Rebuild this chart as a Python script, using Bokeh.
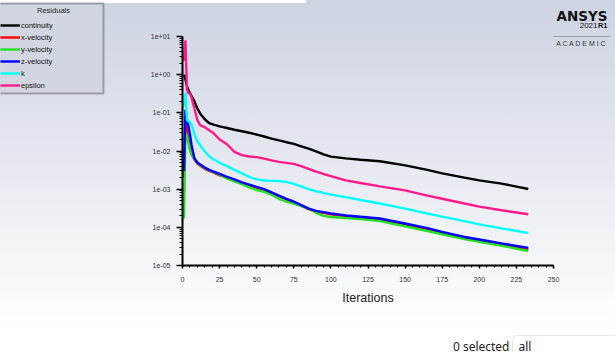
from bokeh.plotting import figure
from bokeh.models import (FixedTicker, CustomJSTickFormatter, Legend, LegendItem,
                          Label, BoxAnnotation, LinearAxis, LogAxis)
from bokeh.embed import file_html
from bokeh.resources import INLINE

# ---------------- data ----------------
iterations = [1, 2, 3, 4, 5, 6, 8, 10, 12, 15, 18, 21, 25, 30, 35, 40, 45, 50, 55, 60,
              65, 70, 75, 80, 85, 90, 95, 100, 110, 120, 133, 150, 165, 175, 190, 200, 215, 233]

continuity = [1.0, 0.75, 0.5, 0.39, 0.33, 0.28, 0.2, 0.13, 0.095, 0.068, 0.054, 0.049, 0.044,
              0.040, 0.036, 0.033, 0.030, 0.027, 0.024, 0.021, 0.019, 0.017, 0.0154, 0.0133,
              0.0115, 0.0098, 0.0082, 0.0071, 0.0064, 0.0059, 0.0054, 0.0042, 0.0032, 0.0026,
              0.0020, 0.0017, 0.0014, 0.00101]
x_velocity = [0.002, 0.065, 0.035, 0.02, 0.012, 0.0085, 0.006, 0.0047, 0.0041, 0.0034, 0.003,
              0.0027, 0.0023, 0.002, 0.0017, 0.00145, 0.00128, 0.0011, 0.00096, 0.0008, 0.00066,
              0.00055, 0.00046, 0.00037, 0.0003, 0.00026, 0.00024, 0.00022, 0.000195, 0.00018,
              0.00016, 0.00012, 0.00009, 0.000072, 0.000053, 0.000045, 0.000035, 0.000026]
y_velocity = [0.00017, 0.03, 0.025, 0.016, 0.0105, 0.0085, 0.0062, 0.005, 0.0043, 0.0036,
              0.0031, 0.0028, 0.0024, 0.0019, 0.0016, 0.00135, 0.00112, 0.00095, 0.00085,
              0.00072, 0.00056, 0.00047, 0.00042, 0.00036, 0.00031, 0.00024, 0.0002, 0.000187,
              0.000175, 0.000165, 0.000146, 0.000107, 0.00008, 0.000066, 0.000049, 0.000042,
              0.000033, 0.000024]
z_velocity = [0.003, 0.12, 0.07, 0.045, 0.028, 0.015, 0.0065, 0.005, 0.0044, 0.0037, 0.0032,
              0.0029, 0.0025, 0.0021, 0.0018, 0.0015, 0.00132, 0.00115, 0.001, 0.00082, 0.00068,
              0.00056, 0.00047, 0.00038, 0.00031, 0.00027, 0.00025, 0.00023, 0.000205, 0.00019,
              0.00017, 0.000126, 0.000095, 0.000076, 0.000056, 0.000048, 0.000038, 0.000029]
k = [0.15, 0.34, 0.065, 0.06, 0.058, 0.05, 0.028, 0.018, 0.014, 0.0098, 0.0072, 0.006, 0.0049,
     0.0040, 0.0032, 0.0026, 0.0021, 0.0018, 0.00168, 0.00165, 0.00163, 0.00155, 0.00137,
     0.00118, 0.001, 0.00088, 0.0008, 0.00072, 0.00062, 0.00052, 0.00042, 0.00031, 0.00023,
     0.00019, 0.000145, 0.00012, 0.000094, 0.000071]
epsilon = [2.3, 7.9, 0.4, 0.33, 0.31, 0.26, 0.13, 0.065, 0.047, 0.042, 0.035, 0.029, 0.020,
           0.015, 0.0095, 0.0078, 0.0072, 0.0069, 0.0063, 0.0057, 0.0052, 0.0049, 0.0046,
           0.0040, 0.0034, 0.0029, 0.0025, 0.0022, 0.0017, 0.00145, 0.00118, 0.00093, 0.00068,
           0.00056, 0.00042, 0.00035, 0.00028, 0.00022]

series_names = ["continuity", "x-velocity", "y-velocity", "z-velocity", "k", "epsilon"]
series_values = [continuity, x_velocity, y_velocity, z_velocity, k, epsilon]
series_colors = ["#000000", "#ff0000", "#22e022", "#0000ff", "#00ffff", "#ff1a8c"]

x_ticks = [0, 25, 50, 75, 100, 125, 150, 175, 200, 225, 250]
x_minor_ticks = [v for v in range(0, 251, 5)]
y_ticks = [1e-5, 1e-4, 1e-3, 1e-2, 1e-1, 1e0, 1e1]
y_tick_labels = ["1e-05", "1e-04", "1e-03", "1e-02", "1e-01", "1e+00", "1e+01"]
y_minor_ticks = [m * d for d in [1e-5, 1e-4, 1e-3, 1e-2, 1e-1, 1e0] for m in range(2, 10)]

# ---------------- layout geometry (canvas px) ----------------
W, H = 615, 353
PL, PR, PT, PB = 182, 553, 36, 265          # plot box inside the canvas
xs = (PR - PL) / 250.0                       # px per iteration
ys = (PB - PT) / 6.0                         # px per decade
x_start = -PL / xs
x_end = 250 + (W - PR) / xs
y_start = 10 ** (-5 - (H - PB) / ys)
y_end = 10 ** (1 + PT / ys)

p = figure(width=W, height=H, x_range=(x_start, x_end), y_range=(y_start, y_end),
           y_axis_type="log", x_axis_location=None, y_axis_location=None,
           output_backend="svg", toolbar_location=None,
           min_border=0, min_border_left=0, min_border_right=0,
           min_border_top=0, min_border_bottom=0)
p.background_fill_alpha = 0
p.border_fill_alpha = 0
p.outline_line_color = None
p.grid.visible = False
p.styles = {
    "background": "linear-gradient(#ffffff, #ffffff) 0 0 / 306px 3px no-repeat, "
                  "linear-gradient(to bottom, #cdd3e1 0px, #ffffff 330px)"
}


def sbox(left, right, top, bottom, **kw):
    p.add_layout(BoxAnnotation(left=left, right=right, top=H - top, bottom=H - bottom,
                               left_units="screen", right_units="screen",
                               top_units="screen", bottom_units="screen", **kw))


def lab(text, cx, cy, size, align="left", style="normal", font="Liberation Sans",
        color="#222222"):
    p.add_layout(Label(x=cx, y=H - cy, x_units="screen", y_units="screen", text=text,
                       text_font=font, text_font_size=size, text_font_style=style,
                       text_align=align, text_baseline="middle", text_color=color,
                       level="overlay"))


# legend frame (drawn as a box; the Legend itself is transparent)
sbox(-3, 103, 3, 93, fill_color="#d1d6e1", fill_alpha=1, line_color="#111111",
     line_width=2, level="underlay")

renderers = []
for name, vals, col in zip(series_names, series_values, series_colors):
    r = p.line(iterations, vals, line_color=col, line_width=2.4)
    renderers.append(r)

xaxis = LinearAxis(fixed_location=1e-5, bounds=(0, 250),
                   ticker=FixedTicker(ticks=x_ticks, minor_ticks=x_minor_ticks))
yaxis = LogAxis(fixed_location=0, bounds=(1e-5, 10),
                ticker=FixedTicker(ticks=y_ticks, minor_ticks=y_minor_ticks))
p.add_layout(xaxis, "below")
p.add_layout(yaxis, "left")

for ax in (xaxis, yaxis):
    ax.axis_line_color = "black"
    ax.axis_line_width = 2
    ax.major_tick_line_color = "black"
    ax.minor_tick_line_color = "black"
    ax.major_tick_line_width = 1.5
    ax.minor_tick_line_width = 1.2
    ax.major_tick_in = 0
    ax.minor_tick_in = 0
    ax.major_label_text_font = "Liberation Sans"
    ax.major_label_text_font_size = "7px"
    ax.major_label_text_color = "#333333"

xaxis.major_tick_out = 3
xaxis.minor_tick_out = 2
xaxis.major_label_standoff = 8
xaxis.axis_label = "Iterations"
xaxis.axis_label_text_font = "Liberation Sans"
xaxis.axis_label_text_font_size = "12.5px"
xaxis.axis_label_text_font_style = "normal"
xaxis.axis_label_text_color = "#222222"
xaxis.axis_label_standoff = 6

yaxis.major_tick_out = 6
yaxis.minor_tick_out = 3
yaxis.major_label_standoff = 6
yaxis.formatter = CustomJSTickFormatter(
    args=dict(tvals=y_ticks, tlabels=y_tick_labels),
    code="""
    for (let i = 0; i < tvals.length; i++) {
        if (Math.abs(Math.log10(tick) - Math.log10(tvals[i])) < 1e-6) return tlabels[i];
    }
    return '';
    """)

# legend (location = bottom-left corner, measured from canvas bottom-left)
items = [LegendItem(label=n, renderers=[r]) for n, r in zip(series_names, renderers)]
legend = Legend(items=items, location=(-3, H - 93), title=" ",
                title_text_font_size="7.5px", title_standoff=5,
                border_line_alpha=0, background_fill_alpha=0,
                label_text_font="Liberation Sans", label_text_font_size="7.5px",
                label_text_color="#111111",
                glyph_width=20, glyph_height=10, label_height=10, label_standoff=1,
                spacing=2, padding=3, margin=0, label_width=78)
p.add_layout(legend)

lab("Residuals", 53, 10, "7.5px", align="center", color="#222222")

# ANSYS logo
lab("ANSYS", 607, 15, "13.5px", align="right", style="bold", font="DejaVu Sans", color="#111111")
lab("R1", 607, 25, "7.5px", align="right", style="bold", font="Liberation Sans", color="#111111")
lab("2021", 597, 25, "8px", align="right", font="Liberation Sans", color="#111111")
sbox(553, 610, 35.5, 36.5, fill_color="#9aa0ad", fill_alpha=1, line_alpha=0)
lab("A C A D E M I C", 581, 43, "7px", align="center", color="#333333")

# widget-like footer
sbox(512, 700, 335, 400, fill_color="#ffffff", fill_alpha=1, line_color="#a8b0bf",
     line_width=1, border_radius=4)
lab("0 selected", 509, 345.5, "12px", align="right", font="Noto Sans", color="#222222")
lab("all", 518, 345.5, "12px", align="left", font="Noto Sans", color="#222222")

open("out.html", "w").write(file_html(p, INLINE))
